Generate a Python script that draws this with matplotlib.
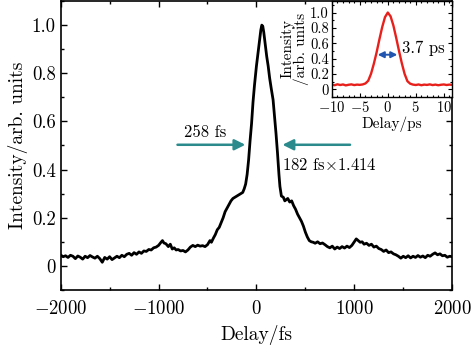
import matplotlib
matplotlib.use('Agg')
import matplotlib.pyplot as plt
from matplotlib.ticker import MultipleLocator, FuncFormatter

plt.rcParams['font.family'] = 'serif'
plt.rcParams['font.serif'] = ['cmr10']
plt.rcParams['mathtext.fontset'] = 'cm'
plt.rcParams['axes.formatter.use_mathtext'] = True

# main autocorrelation trace (delay in fs, normalized intensity)
delay_fs = [-2000, -1975, -1950, -1925, -1900, -1875, -1850, -1825, -1800, -1775,
            -1750, -1725, -1700, -1675, -1650, -1625, -1600, -1575, -1550, -1525,
            -1500, -1475, -1450, -1425, -1400, -1375, -1350, -1325, -1300, -1275,
            -1250, -1225, -1200, -1175, -1150, -1125, -1100, -1075, -1050, -1025,
            -1000, -975, -960, -945, -925, -900, -880, -860, -840, -820,
            -800, -775, -750, -725, -700, -675, -650, -625, -600, -575,
            -550, -525, -500, -475, -460, -440, -420, -400, -380, -360,
            -340, -320, -300, -280, -260, -240, -220, -200, -180, -160,
            -140, -125, -110, -95, -80, -65, -50, -35, -20, 0,
            15, 30, 45, 55, 65, 75, 90, 105, 120, 135,
            150, 170, 185, 200, 215, 230, 240, 255, 275, 290,
            305, 320, 340, 360, 380, 400, 420, 440, 460, 480,
            500, 520, 540, 560, 580, 600, 625, 650, 675, 700,
            725, 750, 775, 800, 825, 850, 875, 900, 925, 950,
            975, 1000, 1020, 1040, 1060, 1080, 1100, 1125, 1150, 1175,
            1200, 1225, 1250, 1275, 1300, 1325, 1350, 1375, 1400, 1425,
            1450, 1475, 1500, 1525, 1550, 1575, 1600, 1625, 1650, 1675,
            1700, 1725, 1750, 1775, 1800, 1825, 1850, 1875, 1900, 1925,
            1950, 1975, 2000]
intensity = [0.045, 0.038, 0.042, 0.035, 0.044, 0.040, 0.030, 0.041, 0.036, 0.028,
             0.040, 0.034, 0.043, 0.037, 0.032, 0.040, 0.030, 0.015, 0.035, 0.028,
             0.038, 0.026, 0.033, 0.040, 0.034, 0.044, 0.038, 0.048, 0.052, 0.044,
             0.055, 0.048, 0.058, 0.052, 0.062, 0.060, 0.068, 0.066, 0.075, 0.078,
             0.085, 0.098, 0.105, 0.095, 0.092, 0.080, 0.090, 0.070, 0.075, 0.066,
             0.068, 0.062, 0.064, 0.058, 0.066, 0.078, 0.085, 0.080, 0.086, 0.082,
             0.084, 0.080, 0.088, 0.105, 0.098, 0.115, 0.130, 0.150, 0.160, 0.180,
             0.200, 0.225, 0.240, 0.255, 0.270, 0.280, 0.285, 0.290, 0.295, 0.300,
             0.305, 0.320, 0.340, 0.380, 0.440, 0.520, 0.590, 0.680, 0.750, 0.830,
             0.880, 0.930, 0.980, 1.000, 0.995, 0.970, 0.920, 0.870, 0.830, 0.780,
             0.740, 0.690, 0.620, 0.550, 0.470, 0.380, 0.330, 0.290, 0.285, 0.270,
             0.275, 0.280, 0.265, 0.270, 0.250, 0.235, 0.215, 0.200, 0.185, 0.165,
             0.140, 0.120, 0.105, 0.100, 0.098, 0.094, 0.100, 0.092, 0.095, 0.088,
             0.080, 0.075, 0.082, 0.070, 0.078, 0.072, 0.080, 0.074, 0.082, 0.076,
             0.085, 0.100, 0.112, 0.105, 0.098, 0.100, 0.090, 0.094, 0.085, 0.090,
             0.078, 0.082, 0.072, 0.068, 0.060, 0.066, 0.055, 0.058, 0.050, 0.046,
             0.040, 0.032, 0.040, 0.034, 0.042, 0.033, 0.040, 0.035, 0.043, 0.036,
             0.041, 0.034, 0.044, 0.040, 0.048, 0.054, 0.046, 0.050, 0.042, 0.044,
             0.036, 0.040, 0.038]

# inset trace (delay in ps)
delay_ps = [-10, -9.5, -9, -8.5, -8, -7.5, -7, -6.5, -6, -5.5, -5, -4.5,
            -4, -3.5, -3, -2.5, -2, -1.5, -1, -0.5, 0, 0.5, 1, 1.5, 2,
            2.5, 3, 3.5, 4, 4.5, 5, 5.5, 6, 6.5, 7, 7.5, 8, 8.5, 9, 9.5,
            10, 10.5, 11, 11.5]
inset_int = [0.060, 0.052, 0.064, 0.055, 0.062, 0.050, 0.058, 0.063, 0.054, 0.060, 0.057, 0.062,
             0.075, 0.110, 0.200, 0.330, 0.480, 0.650, 0.810, 0.940, 1.000, 0.950, 0.830, 0.670, 0.500,
             0.340, 0.200, 0.105, 0.072, 0.060, 0.055, 0.062, 0.052, 0.060, 0.056, 0.063, 0.054, 0.060,
             0.052, 0.058, 0.062, 0.055, 0.060, 0.057]

teal = '#2a8a8c'
blue = '#2255b0'

fig = plt.figure(figsize=(4.74, 3.46), dpi=100)
ax = fig.add_axes([0.128, 0.162, 0.826, 0.835])
ax.plot(delay_fs, intensity, color='black', lw=2.0)
ax.set_xlim(-2000, 2000)
ax.set_ylim(-0.1, 1.1)
ax.xaxis.set_major_locator(MultipleLocator(1000))
ax.xaxis.set_minor_locator(MultipleLocator(500))
ax.yaxis.set_major_locator(MultipleLocator(0.2))
ax.yaxis.set_minor_locator(MultipleLocator(0.1))
ax.yaxis.set_major_formatter(FuncFormatter(lambda v, p: '0' if abs(v) < 1e-9 else '%.1f' % v))
ax.tick_params(which='both', direction='in', top=True, right=True, labelsize=13.5, width=1.0)
ax.tick_params(which='major', length=4)
ax.tick_params(which='minor', length=2.5)
ax.tick_params(axis='x', pad=7)
for s in ax.spines.values():
    s.set_linewidth(1.2)
ax.set_xlabel('Delay/fs', fontsize=14, labelpad=5)
ax.set_ylabel('Intensity/arb. units', fontsize=14, labelpad=3)

# FWHM arrows
ax.annotate('', xy=(-85, 0.503), xytext=(-835, 0.503),
            arrowprops=dict(arrowstyle='-|>', color=teal, lw=1.8, mutation_scale=16))
ax.annotate('', xy=(238, 0.503), xytext=(985, 0.503),
            arrowprops=dict(arrowstyle='-|>', color=teal, lw=1.8, mutation_scale=16))
ax.text(-527, 0.555, '258 fs', fontsize=12, ha='center', va='center')
ax.text(262, 0.42, r'182 fs$\times$1.414', fontsize=12, ha='left', va='center')

# inset
ins = fig.add_axes([0.700, 0.720, 0.254, 0.277])
ins.plot(delay_ps, inset_int, color='#e8201c', lw=1.7)
ins.set_xlim(-10, 11.5)
ins.set_ylim(-0.1, 1.15)
ins.xaxis.set_major_locator(MultipleLocator(5))
ins.xaxis.set_minor_locator(MultipleLocator(1))
ins.yaxis.set_major_locator(MultipleLocator(0.2))
ins.yaxis.set_minor_locator(MultipleLocator(0.1))
ins.yaxis.set_major_formatter(FuncFormatter(lambda v, p: '0' if abs(v) < 1e-9 else '%.1f' % v))
ins.tick_params(which='both', direction='in', top=True, right=True, labelsize=10.5, width=0.8, pad=2)
ins.tick_params(which='major', length=3)
ins.tick_params(which='minor', length=1.5)
for s in ins.spines.values():
    s.set_linewidth(1.0)
ins.set_xlabel('Delay/ps', fontsize=11, labelpad=1)
ins.set_ylabel('Intensity\n/arb. units', fontsize=11, labelpad=1, linespacing=0.85)
ins.annotate('', xy=(-2.3, 0.45), xytext=(2.2, 0.45),
             arrowprops=dict(arrowstyle='<|-|>', color=blue, lw=1.4, mutation_scale=9))
ins.text(2.5, 0.53, '3.7 ps', fontsize=12, ha='left', va='center')

fig.savefig('out.png', dpi=100)
